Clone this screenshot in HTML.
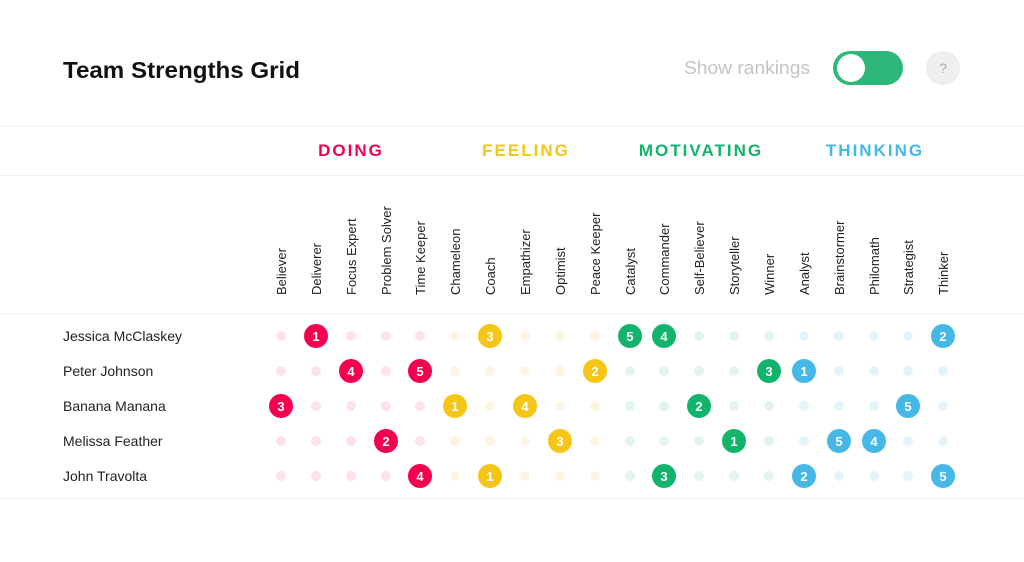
<!DOCTYPE html>
<html><head><meta charset="utf-8"><style>
body{margin:0;background:#fff;}
svg{display:block;font-family:"Liberation Sans",sans-serif;}
</style></head><body>
<svg width="1024" height="562" viewBox="0 0 1024 562">
<text x="63" y="78" font-size="23" fill="#111" font-weight="bold" textLength="237" lengthAdjust="spacingAndGlyphs">Team Strengths Grid</text>
<text x="684" y="74" font-size="18" fill="#c4c4c4" textLength="126" lengthAdjust="spacingAndGlyphs">Show rankings</text>
<rect x="833" y="51" width="70" height="34" rx="17" fill="#2db87a"/>
<circle cx="851" cy="68" r="14" fill="#fff"/>
<circle cx="943" cy="68" r="17" fill="#efefef"/>
<text x="943" y="73" font-size="14" fill="#aaa" text-anchor="middle">?</text>
<g stroke="#eeeeee" stroke-width="1">
<line x1="0" y1="126.5" x2="1024" y2="126.5"/><line x1="0" y1="175.5" x2="1024" y2="175.5"/>
<line x1="0" y1="313.5" x2="1024" y2="313.5"/><line x1="0" y1="498.5" x2="1024" y2="498.5"/>
</g>
<g font-size="17" font-weight="bold" letter-spacing="2" text-anchor="middle">
<text x="351" y="156" fill="#f5004f">DOING</text>
<text x="526" y="156" fill="#f5c518">FEELING</text>
<text x="701" y="156" fill="#12b36b">MOTIVATING</text>
<text x="875" y="156" fill="#45b8e8">THINKING</text>
</g>
<g font-size="13" fill="#222">
<text transform="translate(286,295) rotate(-90)">Believer</text>
<text transform="translate(321,295) rotate(-90)">Deliverer</text>
<text transform="translate(356,295) rotate(-90)">Focus Expert</text>
<text transform="translate(391,295) rotate(-90)">Problem Solver</text>
<text transform="translate(425,295) rotate(-90)">Time Keeper</text>
<text transform="translate(460,295) rotate(-90)">Chameleon</text>
<text transform="translate(495,295) rotate(-90)">Coach</text>
<text transform="translate(530,295) rotate(-90)">Empathizer</text>
<text transform="translate(565,295) rotate(-90)">Optimist</text>
<text transform="translate(600,295) rotate(-90)">Peace Keeper</text>
<text transform="translate(635,295) rotate(-90)">Catalyst</text>
<text transform="translate(669,295) rotate(-90)">Commander</text>
<text transform="translate(704,295) rotate(-90)">Self-Believer</text>
<text transform="translate(739,295) rotate(-90)">Storyteller</text>
<text transform="translate(774,295) rotate(-90)">Winner</text>
<text transform="translate(809,295) rotate(-90)">Analyst</text>
<text transform="translate(844,295) rotate(-90)">Brainstormer</text>
<text transform="translate(879,295) rotate(-90)">Philomath</text>
<text transform="translate(913,295) rotate(-90)">Strategist</text>
<text transform="translate(948,295) rotate(-90)">Thinker</text>
</g>
<g font-size="14" fill="#222">
<text x="63" y="341">Jessica McClaskey</text>
<text x="63" y="376">Peter Johnson</text>
<text x="63" y="411">Banana Manana</text>
<text x="63" y="446">Melissa Feather</text>
<text x="63" y="481">John Travolta</text>
</g>
<g>
<g fill="#fde2eb">
<circle cx="281" cy="336" r="5"/><circle cx="351" cy="336" r="5"/><circle cx="386" cy="336" r="5"/><circle cx="420" cy="336" r="5"/>
<circle cx="281" cy="371" r="5"/><circle cx="316" cy="371" r="5"/><circle cx="386" cy="371" r="5"/>
<circle cx="316" cy="406" r="5"/><circle cx="351" cy="406" r="5"/><circle cx="386" cy="406" r="5"/><circle cx="420" cy="406" r="5"/>
<circle cx="281" cy="441" r="5"/><circle cx="316" cy="441" r="5"/><circle cx="351" cy="441" r="5"/><circle cx="420" cy="441" r="5"/>
<circle cx="281" cy="476" r="5"/><circle cx="316" cy="476" r="5"/><circle cx="351" cy="476" r="5"/><circle cx="386" cy="476" r="5"/>
</g>
<g fill="#fdf5e2">
<circle cx="455" cy="336" r="5"/><circle cx="525" cy="336" r="5"/><circle cx="560" cy="336" r="5"/><circle cx="595" cy="336" r="5"/>
<circle cx="455" cy="371" r="5"/><circle cx="490" cy="371" r="5"/><circle cx="525" cy="371" r="5"/><circle cx="560" cy="371" r="5"/>
<circle cx="490" cy="406" r="5"/><circle cx="560" cy="406" r="5"/><circle cx="595" cy="406" r="5"/>
<circle cx="455" cy="441" r="5"/><circle cx="490" cy="441" r="5"/><circle cx="525" cy="441" r="5"/><circle cx="595" cy="441" r="5"/>
<circle cx="455" cy="476" r="5"/><circle cx="525" cy="476" r="5"/><circle cx="560" cy="476" r="5"/><circle cx="595" cy="476" r="5"/>
</g>
<g fill="#e2f5ec">
<circle cx="699" cy="336" r="5"/><circle cx="734" cy="336" r="5"/><circle cx="769" cy="336" r="5"/>
<circle cx="630" cy="371" r="5"/><circle cx="664" cy="371" r="5"/><circle cx="699" cy="371" r="5"/><circle cx="734" cy="371" r="5"/>
<circle cx="630" cy="406" r="5"/><circle cx="664" cy="406" r="5"/><circle cx="734" cy="406" r="5"/><circle cx="769" cy="406" r="5"/>
<circle cx="630" cy="441" r="5"/><circle cx="664" cy="441" r="5"/><circle cx="699" cy="441" r="5"/><circle cx="769" cy="441" r="5"/>
<circle cx="630" cy="476" r="5"/><circle cx="699" cy="476" r="5"/><circle cx="734" cy="476" r="5"/><circle cx="769" cy="476" r="5"/>
</g>
<g fill="#e4f4fb">
<circle cx="804" cy="336" r="5"/><circle cx="839" cy="336" r="5"/><circle cx="874" cy="336" r="5"/><circle cx="908" cy="336" r="5"/>
<circle cx="839" cy="371" r="5"/><circle cx="874" cy="371" r="5"/><circle cx="908" cy="371" r="5"/><circle cx="943" cy="371" r="5"/>
<circle cx="804" cy="406" r="5"/><circle cx="839" cy="406" r="5"/><circle cx="874" cy="406" r="5"/><circle cx="943" cy="406" r="5"/>
<circle cx="804" cy="441" r="5"/><circle cx="908" cy="441" r="5"/><circle cx="943" cy="441" r="5"/>
<circle cx="839" cy="476" r="5"/><circle cx="874" cy="476" r="5"/><circle cx="908" cy="476" r="5"/>
</g>
</g>
<g fill="#f5004f">
<circle cx="316" cy="336" r="12"/><circle cx="351" cy="371" r="12"/><circle cx="420" cy="371" r="12"/>
<circle cx="281" cy="406" r="12"/><circle cx="386" cy="441" r="12"/><circle cx="420" cy="476" r="12"/>
</g>
<g fill="#f5c518">
<circle cx="490" cy="336" r="12"/><circle cx="595" cy="371" r="12"/><circle cx="455" cy="406" r="12"/>
<circle cx="525" cy="406" r="12"/><circle cx="560" cy="441" r="12"/><circle cx="490" cy="476" r="12"/>
</g>
<g fill="#12b36b">
<circle cx="630" cy="336" r="12"/><circle cx="664" cy="336" r="12"/><circle cx="769" cy="371" r="12"/>
<circle cx="699" cy="406" r="12"/><circle cx="734" cy="441" r="12"/><circle cx="664" cy="476" r="12"/>
</g>
<g fill="#45b8e8">
<circle cx="943" cy="336" r="12"/><circle cx="804" cy="371" r="12"/><circle cx="908" cy="406" r="12"/>
<circle cx="839" cy="441" r="12"/><circle cx="874" cy="441" r="12"/><circle cx="804" cy="476" r="12"/><circle cx="943" cy="476" r="12"/>
</g>
<g font-size="13" fill="#fff" font-weight="bold" text-anchor="middle">
<text x="316" y="341">1</text><text x="490" y="341">3</text><text x="630" y="341">5</text><text x="664" y="341">4</text><text x="943" y="341">2</text>
<text x="351" y="376">4</text><text x="420" y="376">5</text><text x="595" y="376">2</text><text x="769" y="376">3</text><text x="804" y="376">1</text>
<text x="281" y="411">3</text><text x="455" y="411">1</text><text x="525" y="411">4</text><text x="699" y="411">2</text><text x="908" y="411">5</text>
<text x="386" y="446">2</text><text x="560" y="446">3</text><text x="734" y="446">1</text><text x="839" y="446">5</text><text x="874" y="446">4</text>
<text x="420" y="481">4</text><text x="490" y="481">1</text><text x="664" y="481">3</text><text x="804" y="481">2</text><text x="943" y="481">5</text>
</g>
</svg>
</body></html>
